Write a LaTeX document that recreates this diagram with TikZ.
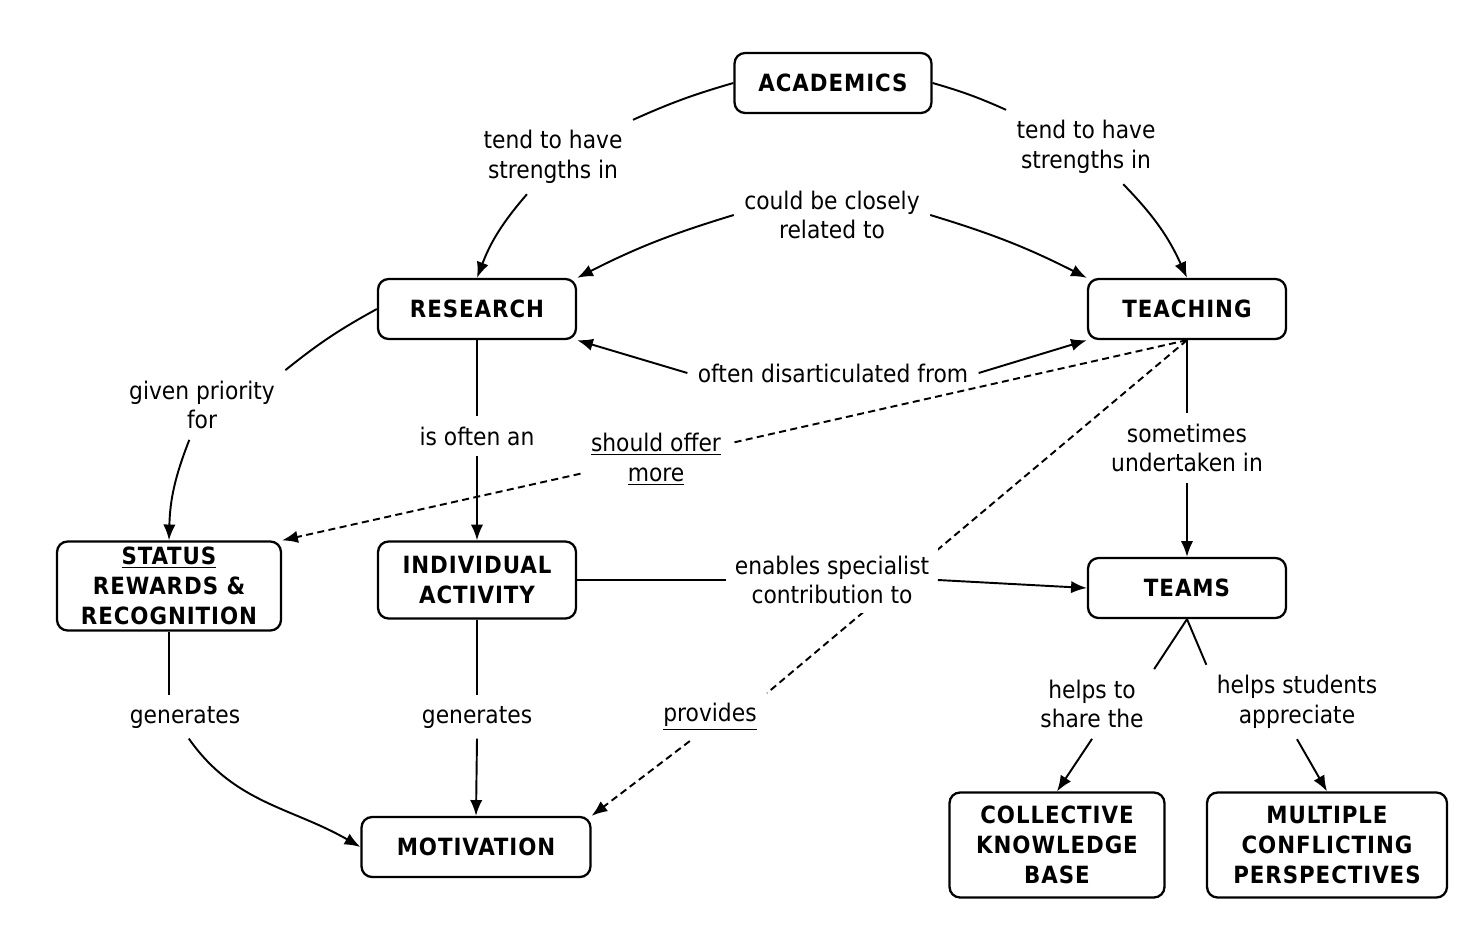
\documentclass[tikz,border=0pt]{standalone}
\usepackage{fontspec}
\setmainfont{DejaVu Sans Condensed}
\newfontfamily\conceptfont{DejaVu Sans Condensed}[LetterSpace=4]
\usetikzlibrary{arrows.meta}

\tikzset{
	concept/.style={draw, line width=1.3pt, rounded corners=6pt, align=center, minimum height=1.2cm, inner sep=2pt, font=\conceptfont\bfseries\fontsize{13.5}{17}\selectfont},
	phrase/.style={align=center, inner sep=1pt, outer sep=5pt, font=\fontsize{13.8}{17}\selectfont},
	link/.style={line width=1.1pt},
	tip/.style={-{Latex[length=9pt,width=7pt]}},
	linkto/.style={link, tip},
	hint/.style={link, dash pattern=on 4pt off 2.5pt},
}

\begin{document}
\begin{tikzpicture}[x=0.02cm, y=-0.02cm]
\useasboundingbox (0,0) rectangle (1477,930);

% Conceptos
\node[concept, minimum width=3.94cm] (acad) at (833,83) {ACADEMICS};
\node[concept, minimum width=3.96cm] (res) at (477,309) {RESEARCH};
\node[concept, minimum width=3.96cm] (teach) at (1187,309) {TEACHING};
\node[concept, minimum width=4.48cm, minimum height=1.78cm] (status) at (169,586) {\underline{STATUS}\\REWARDS \&\\RECOGNITION};
\node[concept, minimum width=3.96cm, minimum height=1.54cm] (ind) at (477,580) {INDIVIDUAL\\ACTIVITY};
\node[concept, minimum width=3.96cm] (teams) at (1187,588) {TEAMS};
\node[concept, minimum width=4.58cm] (mot) at (476,847) {MOTIVATION};
\node[concept, minimum width=4.3cm, minimum height=2.1cm] (coll) at (1057,845) {COLLECTIVE\\KNOWLEDGE\\BASE};
\node[concept, minimum width=4.8cm, minimum height=2.1cm] (mult) at (1327,845) {MULTIPLE\\CONFLICTING\\PERSPECTIVES};

% Frases de enlace
\node[phrase] (tl) at (553,157) {tend to have\\strengths in};
\node[phrase] (tr) at (1086,147) {tend to have\\strengths in};
\node[phrase] (cb) at (832,215) {could be closely\\related to};
\node[phrase] (od) at (833,373) {often disarticulated from};
\node[phrase] (gp) at (202,405) {given priority\\for};
\node[phrase] (io) at (477,436) {is often an};
\node[phrase] (so) at (656,459) {\underline{should offer}\\\underline{more}};
\node[phrase] (su) at (1187,448) {sometimes\\undertaken in};
\node[phrase] (g1) at (185,717) {generates};
\node[phrase] (g2) at (477,717) {generates};
\node[phrase] (pv) at (710,717) {\underline{provides}};
\node[phrase] (hs) at (1092,704) {helps to\\share the};
\node[phrase] (ha) at (1297,702) {helps students\\appreciate};

% Enlaces
\draw[link] (acad.west) to[bend right=4] (tl.north east);
\draw[linkto] (tl.-125) to[bend right=10] (res.north);
\draw[link] (acad.east) to[bend left=4] (tr.north west);
\draw[linkto] (tr.-45) to[bend left=10] (teach.north);

\draw[linkto] (cb.west) to[bend right=5] (res.north east);
\draw[linkto] (cb.east) to[bend left=5] (teach.north west);
\draw[linkto] (od.west) -- (res.south east);
\draw[linkto] (od.east) -- (teach.south west);

\draw[link] (res.west) to[bend right=5] (gp.north east);
\draw[linkto] (gp.-110) to[bend right=10] (status.north);

\foreach \a/\p/\b in {res/io/ind, teach/su/teams, ind/g2/mot}{
	\draw[link] (\a.south) -- (\p.north);
	\draw[linkto] (\p.south) -- (\b.north);
}

\draw[hint] (teach.south) -- (so.12);
\draw[hint, tip] (so.191) -- (status.north east);
\draw[hint] (teach.south) -- (pv.north east);
\draw[hint, tip] (pv.-130) -- (mot.north east);

% tapa la linea discontinua
\node[phrase, fill=white, inner sep=5pt, outer sep=0pt] (es) at (832,580) {enables specialist\\contribution to};
\draw[link] (ind.east) -- (es.west);
\draw[linkto] (es.east) -- (teams.west);

\draw[link] (status.south) -- (status.south |- g1.north);
\draw[linkto] (g1.-80) to[out=-55, in=150] (mot.west);

\draw[link] (teams.south) -- (hs.north east);
\draw[linkto] (hs.south) -- (coll.north);
\draw[link] (teams.south) -- (ha.north west);
\draw[linkto] (ha.south) -- (mult.north);
\end{tikzpicture}
\end{document}
